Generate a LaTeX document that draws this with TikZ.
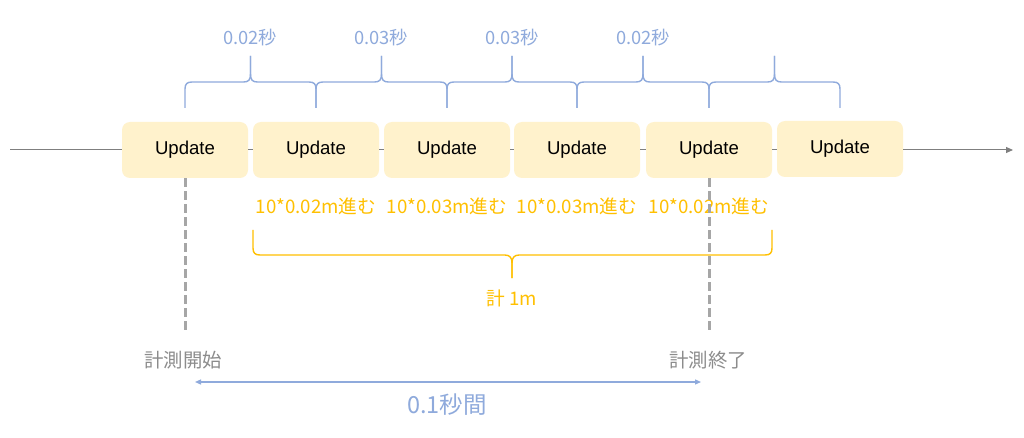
\documentclass[tikz,border=0pt]{standalone}
\usepackage{fontspec}
\setmainfont{Noto Sans CJK JP}
\newfontfamily\latinfont{Liberation Sans}
\usetikzlibrary{arrows.meta}
\definecolor{boxfill}{HTML}{FFF2CC}
\definecolor{tblue}{HTML}{8FAADC}
\definecolor{tyellow}{HTML}{FFC000}
\definecolor{tline}{HTML}{7F7F7F}
\definecolor{tdash}{HTML}{A6A6A6}
\definecolor{tgrey}{HTML}{8C8C8C}
\tikzset{
  upd/.style={draw=none, fill=boxfill, rounded corners=8pt, minimum width=126pt, minimum height=56pt, inner sep=0pt, font=\latinfont\fontsize{18.6}{22}\selectfont, text=black},
  timeline/.style={draw=tline, line width=1pt},
  blue lbl/.style={text=tblue, font=\fontsize{18.3}{22}\selectfont, inner sep=0pt},
  yel lbl/.style={text=tyellow, font=\fontsize{18.7}{22}\selectfont, inner sep=0pt},
  grey lbl/.style={text=tgrey, font=\fontsize{19.4}{23}\selectfont, inner sep=0pt},
  bluebrace/.style={draw=tblue, line width=1.4pt},
  yelbrace/.style={draw=tyellow, line width=1.4pt},
  vdash/.style={draw=tdash, line width=3pt, dash pattern=on 9pt off 4pt},
}
\newcommand\topbrace[2]{%
  \pgfmathsetmacro\mm{(#1+#2)/2}%
  \draw[bluebrace] (#1,108) -- (#1,89) .. controls (#1,84) and (#1+2,82) .. (#1+7,82)
    -- (\mm-7,82) .. controls (\mm-2,82) and (\mm,80) .. (\mm,74) -- (\mm,56);
  \draw[bluebrace] (\mm,56) -- (\mm,74) .. controls (\mm,80) and (\mm+2,82) .. (\mm+7,82)
    -- (#2-7,82) .. controls (#2-2,82) and (#2,84) .. (#2,89) -- (#2,108);
}
\begin{document}
\begin{tikzpicture}[x=1pt,y=-1pt]
\useasboundingbox (0,0) rectangle (1024,438);
\fill[white] (0,0) rectangle (1024,438);

% timeline
\coordinate (tstart) at (10,150);
\coordinate (tend) at (1013,150);
\node[upd] (b1) at (185,150) {Update};
\node[upd] (b2) at (316,150) {Update};
\node[upd] (b3) at (447,150) {Update};
\node[upd] (b4) at (577,150) {Update};
\node[upd] (b5) at (709,150) {Update};
\node[upd] (b6) at (840,149) {Update};
\draw[timeline] (tstart) -- (b1.west);
\draw[timeline] (b1.east) -- (b2.west);
\draw[timeline] (b2.east) -- (b3.west);
\draw[timeline] (b3.east) -- (b4.west);
\draw[timeline] (b4.east) -- (b5.west);
\draw[timeline] (b5.east |- tend) -- (b6.west |- tend);
\draw[timeline, -{Triangle[length=7pt,width=6pt]}] (b6.east |- tend) -- (tend);

% top braces
\topbrace{185}{316}
\topbrace{316}{447}
\topbrace{447}{577}
\topbrace{577}{709}
\topbrace{709}{840}
\node[blue lbl] (t1) at (250,38) {0.02秒};
\node[blue lbl] (t2) at (381,38) {0.03秒};
\node[blue lbl] (t3) at (512,38) {0.03秒};
\node[blue lbl] (t4) at (643,38) {0.02秒};

% distance labels
\node[yel lbl] (m1) at (316,206) {10*0.02m進む};
\node[yel lbl] (m2) at (447,206) {10*0.03m進む};
\node[yel lbl] (m3) at (577,206) {10*0.03m進む};
\node[yel lbl] (m4) at (709,206) {10*0.02m進む};

% dashed markers
\coordinate (d1) at (185,333);
\coordinate (d2) at (709,333);
\draw[vdash] (b1.south) -- (d1);
\draw[vdash] (b5.south) -- (d2);

% yellow brace
\draw[yelbrace] (253,230) -- (253,248) .. controls (253,253) and (255,255) .. (260,255)
  -- (505,255) .. controls (510,255) and (512,258) .. (512,263) -- (512,278);
\draw[yelbrace] (512,278) -- (512,263) .. controls (512,258) and (514,255) .. (519,255)
  -- (765,255) .. controls (770,255) and (772,253) .. (772,248) -- (772,230);
\node[yel lbl] (total) at (512,298) {計 1m};

% start / end
\node[grey lbl] (s) at (183,360) {計測開始};
\node[grey lbl] (e) at (708,360) {計測終了};
\coordinate (a1) at (195,382);
\coordinate (a2) at (701,382);
\draw[draw=tblue, line width=1.2pt, {Triangle[length=6pt,width=5pt]}-{Triangle[length=6pt,width=5pt]}] (a1) -- (a2);
\node[text=tblue, font=\fontsize{23.5}{28}\selectfont, inner sep=0pt] (dur) at (447,405) {0.1秒間};
\end{tikzpicture}
\end{document}
